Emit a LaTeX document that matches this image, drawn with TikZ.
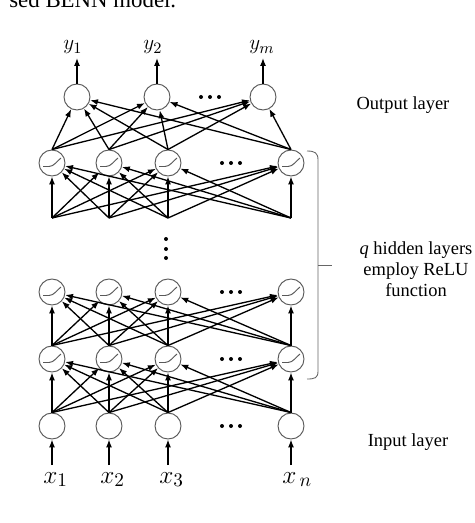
\documentclass[tikz,border=0pt]{standalone}
\usepackage{fontspec}
\setmainfont{Liberation Serif}
\usetikzlibrary{arrows.meta, calc}
\tikzset{
    >={Latex[length=4.5pt, width=3.4pt]},
    neuron/.style={circle, draw=gray!70!black, line width=0.55pt, minimum size=0.52cm, inner sep=0pt},
    link/.style={->, line width=0.75pt},
    relu/.style={gray!70!black, line width=0.55pt},
    dotmark/.style={fill=black},
    brace/.style={gray!80!black, line width=0.5pt},
    layertext/.style={font=\fontsize{10.5}{12}\selectfont, align=center},
    xlabel/.style={font=\fontsize{15}{17}\selectfont, inner sep=0pt, anchor=base west},
    ylabel/.style={font=\fontsize{13}{15}\selectfont, inner sep=0pt, anchor=base west},
}

\begin{document}
\begin{tikzpicture}[x=0.02cm, y=-0.02cm]
    \path[use as bounding box, clip] (0,0) rectangle (474,523);
    \node[anchor=base west, inner sep=0pt, font=\fontsize{13}{15}\selectfont] (caption) at (9,8) {sed BENN model.};
    % output layer
    \foreach \i/\x/\s in {1/77/1, 2/157/2, 3/263/m} {
        \node[neuron] (o\i) at (\x,97) {};
        \coordinate (yo\i) at (\x,58);
        \draw[link] (o\i) -- (yo\i);
        \node[ylabel] (y\i) at (\x-14,50) {$y_{\s}$};
    };
    % hidden and input layers
    \foreach \i/\x in {1/52, 2/109, 3/168, 4/291} {
        \foreach \l/\y in {a/163, b/292, c/359}
            \node[neuron] (\l\i) at (\x,\y) {};
        \node[neuron] (i\i) at (\x,426) {};
        \coordinate (f\i) at (\x,218);
        \coordinate (xi\i) at (\x,465);
        \draw[link] (xi\i) -- (i\i);
    };
    \foreach \l in {a,b,c}
    \foreach \i in {1,...,4}
        \draw[relu] ($(\l\i)+(-9,3.5)$) -- ++(6,0) .. controls +(5,0) and +(-4,3) .. ($(\l\i)+(9,-5)$);
    \foreach \i/\x/\s in {1/52/1, 2/109/2, 3/168/3, 4/291/\,n}
        \node[xlabel] (x\i) at (\x-9,483) {$x_{\s}$};
    % connections
    \foreach \s in {1,...,4} {
        \foreach \t in {1,2,3} \draw[link] (a\s.north) -- (o\t);
        \foreach \t in {1,...,4} {
            \draw[link] (f\s) -- (a\t);
            \draw[link] (c\s.north) -- (b\t);
            \draw[link] (i\s.north) -- (c\t);
        };
    };
    % dots
    \foreach \y in {163, 292, 359, 426}
        \foreach \d in {-9,0,9} \fill[dotmark] (231+\d,\y) circle (2);
    \foreach \d in {-9,0,9} \fill[dotmark] (210+\d,97) circle (2);
    \foreach \y in {239,249,258} \fill[dotmark] (166,\y) circle (2);
    % bracket
    \draw[brace] (307,151) .. controls (315,151) and (318,153) .. (318,160) -- (318,371)
        .. controls (318,378) and (315,379) .. (307,379);
    \draw[brace] (318,265) -- (332,265);
    \node[layertext] (outtext) at (403,105) {Output layer};
    \node[layertext] (hidtext) at (416,269) {\textit{q} hidden layers\\employ ReLU\\function};
    \node[layertext] (intext) at (408,442) {Input layer};
\end{tikzpicture}
\end{document}
